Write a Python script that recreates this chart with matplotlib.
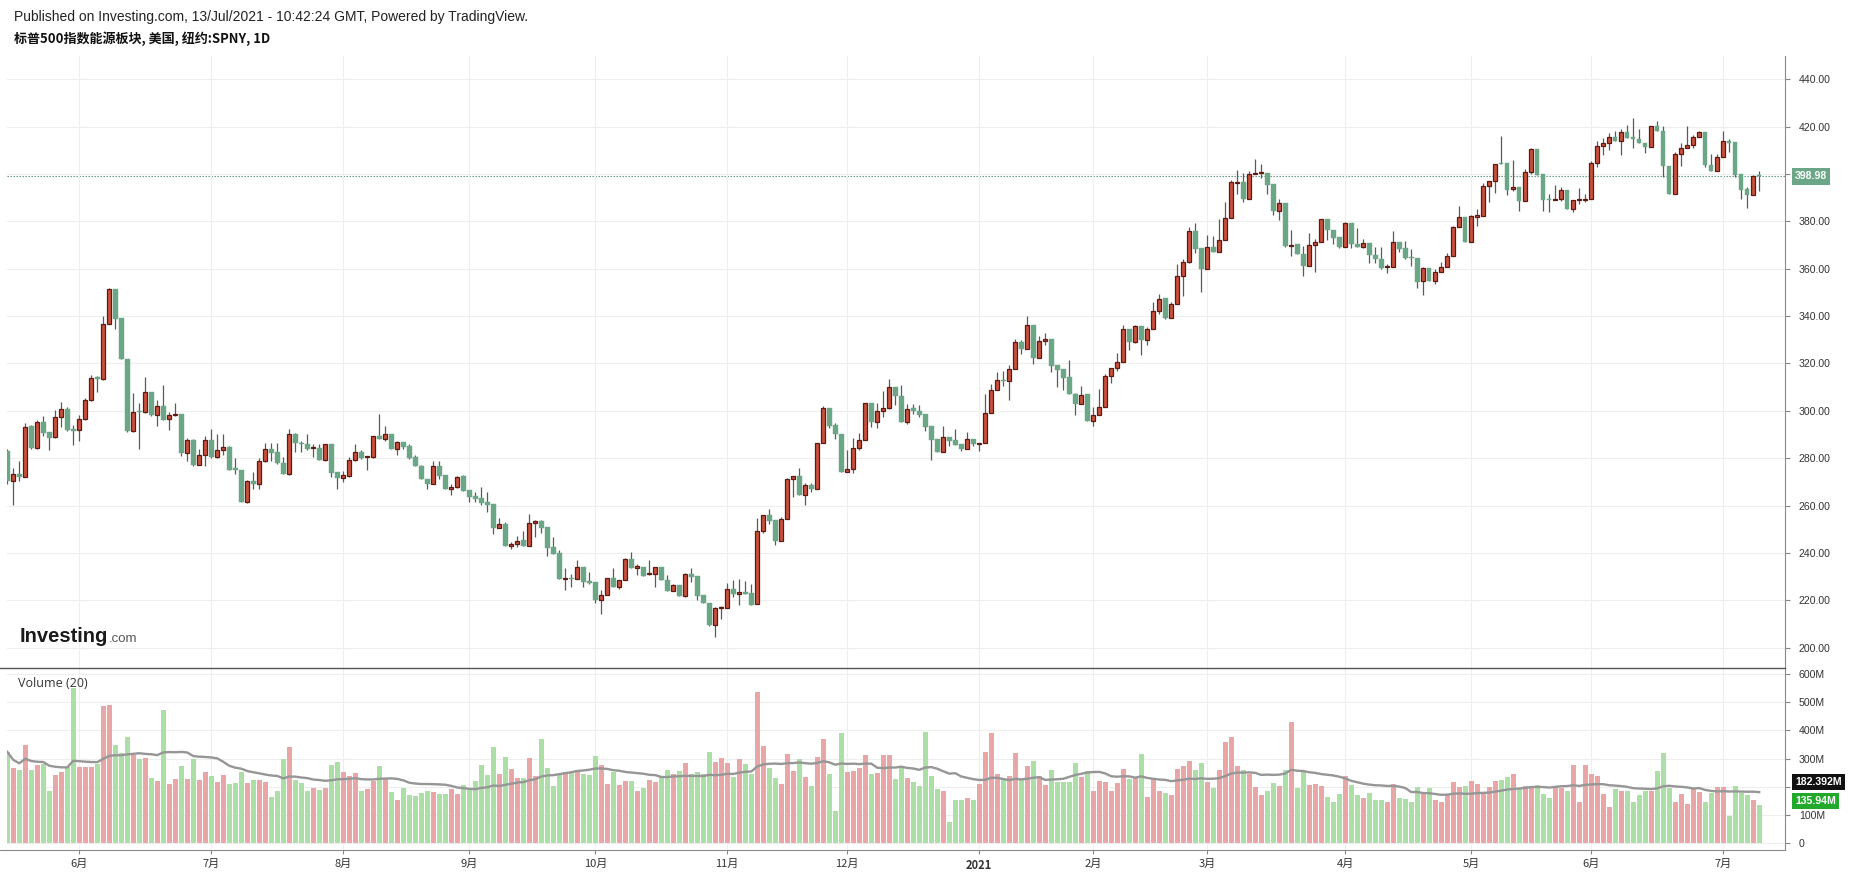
import numpy as np
import pandas as pd
import matplotlib
matplotlib.use('Agg')
import matplotlib.pyplot as plt
from matplotlib.lines import Line2D
from matplotlib import transforms

plt.rcParams['font.family'] = ['Liberation Sans', 'Noto Sans CJK SC', 'DejaVu Sans']

# trading days shown on the chart (US market holidays removed)
holidays = ['2020-05-25', '2020-07-03', '2020-09-07', '2020-11-26', '2020-12-25',
            '2021-01-01', '2021-01-18', '2021-02-15', '2021-04-02', '2021-05-31', '2021-07-05']
dates = pd.bdate_range('2020-05-13', '2021-07-12')
dates = dates[~dates.isin(pd.to_datetime(holidays))]

# daily OHLC
opens = [283.0, 270.5, 273.3, 272.2, 293.4, 284.5, 295.2, 291.0, 288.8, 297.3,
         300.7, 292.4, 291.8, 296.5, 304.6, 314.2, 313.4, 336.8, 351.3, 339.0,
         321.9, 291.3, 299.5, 299.3, 307.9, 298.1, 301.9, 296.5, 298.2, 298.7,
         282.0, 287.7, 277.2, 281.2, 287.7, 280.4, 283.4, 284.8, 275.4, 275.2,
         261.5, 270.3, 268.9, 278.7, 284.0, 282.5, 278.0, 273.4, 290.4, 286.5,
         285.8, 284.1, 284.5, 279.4, 285.9, 274.0, 271.7, 272.5, 279.4, 282.5,
         280.3, 280.5, 289.2, 288.2, 290.0, 283.9, 287.0, 285.0, 280.3, 276.9,
         271.0, 269.3, 276.8, 272.7, 266.8, 267.7, 272.4, 266.5, 264.0, 263.1,
         261.4, 260.6, 250.6, 252.1, 243.1, 243.7, 245.4, 243.0, 252.8, 253.6,
         250.8, 242.5, 240.0, 228.9, 229.3, 229.0, 234.2, 228.2, 227.6, 220.0,
         222.4, 229.3, 225.4, 228.7, 237.6, 233.8, 234.1, 230.9, 231.3, 234.2,
         228.7, 223.9, 226.6, 221.8, 231.3, 230.1, 222.1, 219.0, 209.7, 216.7,
         216.8, 224.6, 222.8, 223.4, 223.2, 218.6, 249.4, 255.9, 253.7, 245.2,
         254.5, 271.0, 272.4, 264.4, 268.6, 267.0, 286.2, 301.0, 293.9, 290.0,
         274.2, 275.6, 284.1, 287.6, 303.2, 295.4, 300.1, 301.0, 309.9, 306.2,
         295.2, 301.0, 300.0, 298.5, 293.4, 287.9, 282.5, 289.0, 287.5, 285.8,
         284.0, 288.2, 286.1, 286.3, 299.2, 308.6, 313.0, 312.7, 317.7, 328.9,
         326.1, 336.1, 322.3, 329.3, 330.4, 319.2, 317.5, 314.1, 307.3, 303.0,
         306.9, 295.9, 298.3, 301.8, 314.5, 318.2, 320.7, 334.4, 329.0, 335.6,
         330.0, 334.6, 342.3, 347.5, 339.2, 345.2, 357.0, 362.8, 376.1, 368.6,
         360.0, 369.2, 367.0, 372.3, 381.5, 396.3, 396.8, 389.3, 399.9, 400.3,
         400.6, 395.6, 384.5, 387.9, 369.6, 370.3, 366.3, 361.3, 370.0, 371.4,
         381.1, 376.2, 373.2, 369.3, 379.3, 370.4, 369.0, 370.8, 365.9, 364.2,
         360.6, 360.9, 371.2, 368.6, 365.0, 364.6, 354.6, 360.4, 355.0, 358.5,
         360.8, 365.3, 377.5, 381.8, 371.1, 382.0, 382.1, 395.0, 397.1, 404.6,
         404.6, 393.8, 394.4, 388.5, 400.9, 410.4, 399.9, 389.6, 389.0, 389.3,
         393.2, 385.0, 389.1, 389.1, 389.6, 404.6, 412.0, 413.2, 415.8, 413.8,
         417.9, 415.5, 414.9, 413.2, 411.3, 420.1, 418.3, 403.2, 391.5, 408.5,
         411.0, 412.4, 415.8, 417.7, 403.9, 401.4, 407.0, 414.1, 413.4, 400.1,
         393.5, 391.0, 399.4]
highs = [284.0, 275.7, 278.8, 294.8, 294.0, 296.2, 297.9, 291.0, 300.4, 303.6,
         301.8, 294.1, 298.3, 305.4, 315.3, 314.5, 340.0, 351.7, 351.5, 339.0,
         322.0, 307.5, 303.3, 314.3, 308.0, 304.7, 310.8, 299.3, 303.3, 298.7,
         288.7, 288.0, 283.8, 289.4, 292.5, 290.3, 290.3, 285.0, 279.9, 275.2,
         270.7, 274.2, 279.9, 286.5, 286.5, 286.5, 280.3, 292.1, 290.5, 287.3,
         290.1, 285.9, 285.9, 286.0, 286.0, 274.0, 274.6, 280.3, 285.9, 283.4,
         281.0, 289.3, 298.6, 293.5, 290.0, 287.1, 287.0, 285.9, 281.5, 277.0,
         271.0, 278.9, 278.9, 272.7, 269.2, 272.4, 272.8, 266.5, 265.5, 267.9,
         265.6, 260.6, 254.9, 253.1, 244.8, 247.3, 249.3, 256.3, 253.7, 253.7,
         250.8, 246.5, 241.4, 233.7, 231.0, 236.9, 234.2, 232.0, 227.6, 224.2,
         229.3, 233.5, 228.7, 237.7, 240.3, 235.5, 234.1, 236.9, 234.2, 234.2,
         230.8, 226.7, 226.6, 231.5, 233.8, 230.1, 222.1, 219.0, 217.2, 217.4,
         227.3, 228.5, 229.0, 228.2, 226.7, 254.9, 255.9, 258.7, 253.7, 255.2,
         271.5, 272.4, 275.8, 269.6, 269.6, 286.6, 302.0, 301.0, 294.9, 290.0,
         283.4, 288.7, 290.8, 303.2, 303.2, 303.2, 308.3, 313.4, 309.9, 310.7,
         303.0, 303.0, 302.5, 298.5, 293.4, 287.9, 293.5, 289.0, 292.4, 285.8,
         291.0, 288.2, 286.6, 306.9, 311.4, 316.2, 317.0, 319.2, 330.4, 329.7,
         340.0, 336.1, 331.4, 332.7, 330.4, 319.2, 317.5, 321.5, 307.3, 310.3,
         306.9, 301.5, 309.3, 315.4, 318.2, 324.4, 336.1, 334.4, 336.1, 335.6,
         335.4, 345.9, 349.4, 347.5, 345.9, 362.1, 364.2, 377.6, 379.3, 368.6,
         374.4, 373.7, 381.1, 388.2, 397.3, 401.8, 400.6, 401.3, 406.5, 404.4,
         400.6, 395.6, 389.3, 387.9, 376.2, 370.6, 369.4, 375.2, 372.5, 381.1,
         381.1, 376.2, 373.2, 379.6, 379.3, 377.2, 372.5, 370.8, 369.0, 369.0,
         361.9, 376.0, 371.2, 371.8, 368.3, 364.6, 360.8, 360.4, 359.8, 363.0,
         366.7, 378.0, 386.6, 381.8, 382.5, 385.1, 396.2, 397.1, 404.3, 415.9,
         404.6, 405.7, 394.4, 402.2, 410.8, 410.6, 399.9, 391.6, 395.5, 394.6,
         393.2, 389.0, 394.1, 391.6, 405.4, 414.1, 415.2, 417.2, 418.3, 419.0,
         420.8, 423.7, 418.9, 413.2, 420.4, 422.2, 420.4, 403.2, 409.4, 413.0,
         420.4, 416.6, 418.0, 417.7, 408.5, 408.5, 418.0, 414.8, 413.4, 400.1,
         394.4, 399.6, 401.4]
lows = [269.0, 260.1, 270.5, 272.0, 284.0, 284.0, 289.2, 283.5, 288.5, 293.1,
        291.3, 285.7, 287.2, 296.0, 304.0, 307.8, 313.0, 336.5, 334.4, 321.9,
        291.0, 291.0, 283.9, 299.0, 298.0, 293.4, 296.0, 292.0, 298.0, 280.7,
        278.6, 276.5, 277.0, 276.5, 280.0, 280.0, 281.4, 274.8, 273.5, 261.5,
        261.1, 266.9, 266.9, 278.5, 278.9, 277.7, 273.4, 273.0, 282.7, 282.7,
        283.4, 280.6, 279.2, 278.9, 272.1, 266.8, 270.0, 272.0, 279.0, 279.8,
        275.2, 280.0, 288.0, 287.2, 283.9, 281.4, 283.7, 279.8, 276.8, 271.0,
        267.0, 269.0, 271.4, 266.8, 264.4, 267.5, 266.2, 261.5, 261.5, 260.1,
        257.3, 247.9, 250.5, 243.0, 241.8, 242.5, 243.0, 243.0, 246.8, 248.5,
        238.7, 239.7, 229.0, 224.2, 225.4, 229.0, 225.6, 226.8, 219.0, 214.4,
        222.4, 225.4, 224.8, 228.6, 233.7, 230.6, 230.4, 230.8, 225.6, 228.5,
        223.9, 223.8, 221.6, 221.4, 227.7, 220.3, 218.9, 209.0, 204.5, 212.1,
        216.7, 221.4, 217.9, 222.8, 218.2, 218.6, 248.2, 252.0, 243.5, 245.2,
        254.5, 263.4, 264.4, 260.1, 265.8, 267.0, 286.2, 292.8, 288.0, 274.2,
        274.2, 273.8, 283.4, 287.6, 293.2, 292.8, 297.5, 300.6, 302.4, 295.2,
        294.5, 298.5, 297.3, 291.3, 279.4, 282.5, 282.5, 285.1, 285.5, 283.2,
        284.0, 285.1, 283.2, 286.3, 299.2, 308.6, 310.6, 304.6, 317.7, 324.1,
        326.1, 319.6, 322.3, 327.6, 316.3, 310.0, 308.9, 307.2, 298.3, 303.0,
        295.6, 293.5, 298.3, 301.8, 311.8, 317.0, 320.7, 325.5, 328.6, 323.7,
        327.6, 334.6, 341.0, 338.6, 339.2, 345.2, 348.3, 362.4, 366.6, 350.1,
        360.0, 367.0, 367.0, 372.3, 381.5, 391.4, 388.2, 389.3, 399.9, 398.3,
        391.7, 382.8, 380.7, 369.0, 365.5, 366.3, 356.8, 361.3, 358.7, 371.4,
        372.3, 370.6, 368.7, 369.3, 368.7, 369.0, 368.7, 362.2, 362.2, 359.8,
        358.0, 360.9, 366.9, 364.0, 361.2, 351.8, 348.9, 354.6, 353.7, 358.5,
        360.8, 365.3, 377.5, 371.1, 371.1, 378.2, 382.1, 388.1, 391.9, 404.0,
        390.9, 392.7, 384.2, 388.5, 400.1, 399.6, 384.5, 383.8, 389.0, 388.5,
        385.1, 384.1, 387.3, 388.0, 389.6, 402.8, 408.2, 409.9, 413.8, 408.2,
        415.2, 411.0, 413.0, 408.7, 411.3, 418.0, 398.6, 391.5, 391.5, 403.5,
        411.0, 411.0, 415.5, 402.8, 401.4, 401.4, 407.0, 409.2, 398.6, 389.4,
        385.6, 391.0, 393.0]
closes = [270.5, 273.3, 272.2, 293.1, 284.5, 295.2, 290.8, 288.7, 297.3, 300.7,
          292.0, 291.6, 296.5, 304.7, 313.9, 313.3, 336.8, 351.3, 338.6, 321.9,
          291.3, 299.3, 299.3, 307.9, 298.1, 301.9, 296.2, 298.2, 298.7, 282.0,
          287.7, 277.1, 281.2, 287.7, 280.3, 283.4, 284.8, 275.0, 275.2, 261.5,
          270.3, 268.9, 278.7, 283.9, 282.3, 278.0, 273.4, 290.4, 286.2, 285.9,
          283.8, 284.5, 279.4, 285.9, 273.8, 271.7, 272.7, 279.4, 282.5, 279.9,
          280.8, 289.2, 288.0, 290.0, 283.9, 287.0, 284.8, 279.9, 276.8, 271.0,
          269.0, 276.8, 272.4, 266.8, 267.7, 272.2, 266.2, 263.7, 262.8, 261.1,
          260.3, 250.6, 252.1, 243.0, 243.7, 245.2, 243.0, 252.8, 253.6, 250.6,
          242.1, 239.7, 229.0, 229.3, 228.9, 234.2, 227.6, 227.3, 220.0, 222.4,
          229.3, 225.4, 228.7, 237.6, 233.7, 234.4, 230.4, 231.4, 234.2, 228.5,
          223.9, 226.6, 221.8, 231.3, 229.9, 221.7, 218.9, 209.4, 216.8, 217.3,
          224.6, 222.5, 223.4, 222.8, 218.2, 249.4, 255.9, 253.4, 245.2, 254.5,
          271.1, 272.4, 264.4, 268.5, 266.9, 286.2, 301.0, 293.5, 290.0, 274.2,
          275.6, 284.1, 287.6, 303.2, 295.4, 300.1, 301.0, 309.9, 306.3, 295.2,
          300.8, 300.0, 298.3, 293.1, 287.5, 282.5, 289.0, 287.3, 285.5, 283.8,
          288.2, 285.8, 286.6, 299.2, 308.6, 312.8, 312.5, 317.7, 328.9, 326.1,
          336.1, 322.3, 329.3, 330.4, 318.9, 317.3, 313.8, 307.2, 302.7, 306.8,
          295.9, 298.3, 301.8, 314.5, 318.2, 320.7, 334.4, 329.0, 335.6, 330.0,
          334.6, 342.3, 347.2, 339.2, 345.2, 357.0, 362.8, 376.1, 368.3, 360.0,
          369.2, 367.0, 372.3, 381.5, 396.5, 396.8, 389.3, 399.9, 400.3, 400.6,
          395.5, 384.4, 387.9, 369.4, 370.1, 366.3, 361.3, 370.0, 371.4, 381.1,
          376.2, 373.1, 369.3, 379.3, 370.4, 369.0, 370.8, 365.7, 364.0, 360.5,
          361.2, 371.2, 368.3, 364.7, 364.5, 354.4, 360.4, 354.9, 358.5, 360.8,
          365.3, 377.5, 381.8, 371.1, 382.3, 382.5, 395.0, 397.1, 404.3, 404.0,
          393.4, 394.3, 388.5, 400.9, 410.4, 399.6, 389.2, 388.9, 389.6, 393.2,
          385.1, 389.0, 389.6, 389.6, 404.6, 412.0, 413.2, 415.8, 413.8, 417.7,
          415.2, 414.8, 413.0, 411.3, 420.1, 418.0, 403.2, 391.5, 408.5, 411.0,
          412.4, 415.8, 417.7, 403.8, 401.4, 407.0, 414.1, 413.1, 399.7, 393.2,
          391.0, 399.0, 398.98]
# volume in millions
volumes = [324, 267, 259, 348, 259, 276, 282, 184, 241, 251,
           269, 549, 270, 270, 270, 280, 486, 491, 348, 320,
           377, 312, 298, 301, 232, 219, 472, 209, 229, 273,
           227, 298, 223, 251, 237, 216, 241, 209, 212, 251,
           212, 223, 223, 216, 163, 187, 298, 340, 223, 212,
           184, 195, 190, 195, 276, 287, 251, 237, 248, 187,
           191, 219, 273, 227, 180, 152, 195, 170, 166, 177,
           187, 183, 173, 173, 191, 173, 205, 191, 219, 276,
           241, 340, 244, 305, 262, 230, 230, 301, 237, 369,
           266, 202, 244, 251, 251, 259, 244, 241, 308, 276,
           209, 251, 205, 219, 219, 184, 195, 223, 216, 237,
           259, 247, 255, 284, 244, 251, 244, 323, 287, 301,
           284, 234, 298, 280, 244, 536, 344, 266, 230, 209,
           316, 255, 298, 234, 204, 305, 369, 244, 116, 390,
           251, 255, 266, 312, 244, 248, 312, 312, 227, 269,
           230, 216, 203, 394, 237, 191, 184, 77, 152, 155,
           159, 155, 209, 323, 390, 244, 227, 237, 319, 227,
           273, 291, 237, 205, 259, 216, 216, 216, 284, 234,
           255, 187, 219, 216, 187, 212, 262, 227, 230, 316,
           163, 230, 187, 177, 170, 262, 273, 291, 259, 284,
           216, 195, 260, 358, 376, 273, 259, 245, 198, 170,
           184, 212, 202, 259, 431, 196, 253, 205, 211, 203,
           163, 148, 173, 237, 205, 172, 160, 177, 153, 155,
           148, 211, 160, 157, 145, 198, 179, 195, 152, 148,
           172, 216, 198, 202, 219, 209, 179, 198, 219, 223,
           234, 245, 194, 202, 202, 206, 173, 159, 198, 195,
           184, 276, 148, 276, 245, 237, 173, 127, 191, 187,
           184, 148, 170, 184, 184, 255, 319, 195, 148, 173,
           141, 195, 180, 145, 177, 198, 198, 95, 202, 177,
           170, 152, 135.94]

last_price_label = '398.98'
ma_label = '182.392M'
last_vol_label = '135.94M'
price_ticks = list(range(200, 441, 20))
vol_ticks = [0, 100, 200, 300, 400, 500, 600]

o = np.array(opens)
h = np.array(highs)
l = np.array(lows)
c = np.array(closes)
vol = np.array(volumes)
x = np.arange(len(dates))
up = c >= o
ma = pd.Series(vol).rolling(20, min_periods=1).mean().values

RED = '#c9503d'
RED_EDGE = '#5e1a12'
GREEN = '#6ba687'
VRED = '#e8a6a6'
VGREEN = '#abdfa5'
GRID = '#eeeeee'

W, H = 1857, 882
fig = plt.figure(figsize=(W / 100, H / 100), dpi=100)


def fx(px):
    return px / W


def fy(py):
    return 1 - py / H


left, right = 7.3, 1785
ax = fig.add_axes([fx(left), fy(668), fx(right - left), (668 - 56) / H])
axv = fig.add_axes([fx(left), fy(850), fx(right - left), (850 - 668) / H], sharex=ax)

# month starts for grid and labels
month_pos = [i for i in range(1, len(dates)) if dates[i].month != dates[i - 1].month]
month_lab = [str(dates[i].year) if dates[i].month == 1 else f'{dates[i].month}月' for i in month_pos]

# candles
ax.vlines(x, l, h, color='#5a5a5a', lw=0.9, zorder=2)
bottom = np.minimum(o, c)
height = np.maximum(np.abs(c - o), 0.45)
ax.bar(x[up], height[up], bottom=bottom[up], width=0.64, color=RED,
       edgecolor=RED_EDGE, linewidth=0.9, zorder=3)
ax.bar(x[~up], height[~up], bottom=bottom[~up], width=0.76, color=GREEN,
       edgecolor=GREEN, linewidth=0.3, zorder=3)
ax.axhline(closes[-1], color='#4f8f78', lw=0.8, ls=(0, (1.2, 1.5)), zorder=1)

ax.set_xlim(0, 296.3)
ax.set_ylim(191.4, 449.8)
ax.set_xticks(month_pos)
ax.set_yticks(price_ticks)
# the 400 label sits under the last-price box, as in the original
ax.set_yticklabels(['' if p == 400 else f'{p:.2f}' for p in price_ticks])
ax.grid(True, color=GRID, lw=0.8, zorder=0)
ax.yaxis.tick_right()
ax.tick_params(axis='x', length=0, labelbottom=False)
ax.tick_params(axis='y', length=3.4, pad=6.5, color='#888888', labelcolor='#333333', labelsize=7.6)
for s in ['left', 'top', 'bottom']:
    ax.spines[s].set_visible(False)
ax.spines['right'].set_color('#8a8a8a')
ax.spines['right'].set_linewidth(0.8)

# volume
axv.bar(x[up], vol[up], width=0.8, color=VRED, zorder=2)
axv.bar(x[~up], vol[~up], width=0.8, color=VGREEN, zorder=2)
axv.plot(x, ma, color='#969696', lw=1.7, zorder=3)
axv.set_ylim(-23.7, 621)
axv.set_yticks(vol_ticks)
# 200M is covered by the MA value box
axv.set_yticklabels(['0' if v == 0 else ('' if v == 200 else f'{v}M') for v in vol_ticks])
axv.grid(True, color=GRID, lw=0.8, zorder=0)
axv.yaxis.tick_right()
axv.set_xticks(month_pos)
axv.set_xticklabels(month_lab)
axv.tick_params(axis='y', length=3.4, pad=6.5, color='#888888', labelcolor='#333333', labelsize=7.6)
axv.tick_params(axis='x', length=3, pad=3.5, color='#888888', labelcolor='#333333', labelsize=8)
for t in axv.get_xticklabels():
    t.set_family(['Noto Sans CJK SC', 'DejaVu Sans'])
    if t.get_text() == '2021':
        t.set_fontweight('bold')
for s in ['left', 'top']:
    axv.spines[s].set_visible(False)
axv.spines['right'].set_color('#8a8a8a')
axv.spines['right'].set_linewidth(0.8)
axv.spines['bottom'].set_color('#8a8a8a')
axv.spines['bottom'].set_linewidth(0.8)
axv.text(0.006, 0.915, 'Volume (20)', transform=axv.transAxes, fontsize=9,
         family=['Open Sans', 'DejaVu Sans'], color='#333333', va='center')

# panel separator and axis lines from the very left edge
fig.add_artist(Line2D([0, fx(right)], [fy(668), fy(668)], color='#555555', lw=1.0))
fig.add_artist(Line2D([0, fx(left)], [fy(850), fy(850)], color='#8a8a8a', lw=0.8))

# value boxes on the right axis
tr = transforms.blended_transform_factory(ax.transAxes, ax.transData)
ax.annotate(last_price_label, xy=(1, closes[-1]), xycoords=tr, xytext=(10, 0),
            textcoords='offset pixels', color='white', fontsize=7.6, fontweight='bold',
            va='center', ha='left', annotation_clip=False,
            bbox=dict(boxstyle='square,pad=0.3', fc='#6ba687', ec='none'))
trv = transforms.blended_transform_factory(axv.transAxes, axv.transData)
axv.annotate(ma_label, xy=(1, ma[-1]), xycoords=trv, xytext=(10, 10),
             textcoords='offset pixels', color='white', fontsize=7.6, fontweight='bold',
             va='center', ha='left', annotation_clip=False,
             bbox=dict(boxstyle='square,pad=0.3', fc='#111111', ec='none'))
axv.annotate(last_vol_label, xy=(1, vol[-1]), xycoords=trv, xytext=(10, 4),
             textcoords='offset pixels', color='white', fontsize=7.6, fontweight='bold',
             va='center', ha='left', annotation_clip=False,
             bbox=dict(boxstyle='square,pad=0.3', fc='#22a82a', ec='none'))

# header
fig.text(fx(14), fy(16.6), 'Published on Investing.com, 13/Jul/2021 - 10:42:24 GMT, Powered by TradingView.',
         fontsize=10, color='#222222', va='center', ha='left')
fig.text(fx(14), fy(39), '标普500指数能源板块, 美国, 纽约:SPNY, 1D',
         family=['Noto Sans CJK SC', 'DejaVu Sans'], fontweight='bold',
         fontsize=9.4, color='#111111', va='center', ha='left')

# logo
fig.text(fx(20), fy(642), 'Investing', fontsize=14.5, fontweight='bold',
         color='#1a1a1a', va='baseline', ha='left')
fig.text(fx(109), fy(642), '.com', fontsize=9.5, color='#555555', va='baseline', ha='left')

fig.savefig('out.png', dpi=100, facecolor='white')
